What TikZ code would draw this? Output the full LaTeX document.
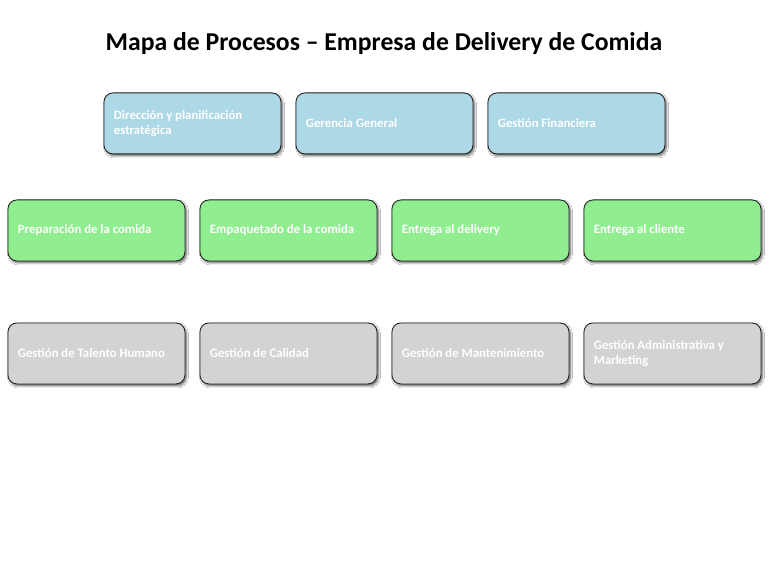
\documentclass[tikz,border=0pt]{standalone}
\usepackage{fontspec}
\setmainfont{Carlito}
\usetikzlibrary{shadows.blur}
\definecolor{boxblue}{HTML}{ADD8E6}
\definecolor{boxgreen}{HTML}{90EE90}
\definecolor{boxgray}{HTML}{D3D3D3}
\newcommand\boxfont{\bfseries\fontsize{12.8}{15.5}\selectfont\hyphenpenalty=10000\relax}
\tikzset{
  procbox/.style={draw=black!85, line width=0.9bp, rounded corners=9bp,
    minimum height=61bp, text width=157bp, inner xsep=10bp, inner ysep=3bp,
    align=flush left, anchor=north west, text=white,
    font=\boxfont,
    blur shadow={shadow xshift=1.5bp, shadow yshift=-2bp, shadow blur steps=6, shadow blur radius=2bp, shadow opacity=60}},
  strat/.style={procbox, fill=boxblue},
  oper/.style={procbox, fill=boxgreen},
  supp/.style={procbox, fill=boxgray},
}
\begin{document}
\begin{tikzpicture}[x=1bp,y=-1bp]
\useasboundingbox[fill=white] (0,0) rectangle (768,576);
\node[font=\bfseries\fontsize{25.8}{30}\selectfont] (title) at (384,44) {Mapa de Procesos – Empresa de Delivery de Comida};
\node[strat] (s1) at (103.5,92.5) {Dirección y planificación estratégica};
\node[strat] (s2) at (295.5,92.5) {Gerencia General};
\node[strat] (s3) at (487.5,92.5) {Gestión Financiera};
\node[oper] (o1) at (7.5,199.5) {Preparación de la comida};
\node[oper] (o2) at (199.5,199.5) {Empaquetado de la comida};
\node[oper] (o3) at (391.5,199.5) {Entrega al delivery};
\node[oper] (o4) at (583.5,199.5) {Entrega al cliente};
\node[supp] (p1) at (7.5,322.5) {Gestión de Talento Humano};
\node[supp] (p2) at (199.5,322.5) {Gestión de Calidad};
\node[supp] (p3) at (391.5,322.5) {Gestión de Mantenimiento};
\node[supp] (p4) at (583.5,322.5) {Gestión Administrativa y Marketing};
\end{tikzpicture}
\end{document}
